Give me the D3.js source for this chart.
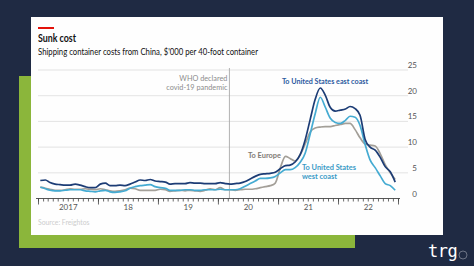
<!DOCTYPE html>
<html><head><meta charset="utf-8">
<script src="https://cdn.jsdelivr.net/npm/d3@7"></script>
<style>
html,body{margin:0;padding:0;background:#1f2a43;}
svg{display:block;}
</style></head>
<body>
<svg id="c" width="474" height="266"></svg>
<script>
// ---- data (monthly, mid-month, Jan 2017 – Dec 2022), $'000 per 40-ft container
const startYear = 2017;
const eastCoast = [3.5,3.6,3.1,2.8,2.7,2.6,2.6,2.8,2.6,2.3,2.1,2.1,
  2.8,3.0,2.5,2.5,2.6,2.5,2.8,3.2,3.6,3.5,3.7,3.4,
  3.3,3.2,2.8,2.9,2.9,2.9,3.1,3.0,3.0,2.9,2.9,2.9,
  3.1,2.9,2.8,2.9,3.0,3.3,3.8,4.3,4.7,4.8,4.9,5.1,
  5.8,6.4,6.5,7.1,8.5,11.4,15.3,19.3,21.5,20.1,17.7,17.0,
  17.2,17.4,17.9,17.5,16.2,11.5,10.0,9.4,8.0,6.2,5.2,3.2];
const westCoast = [2.2,1.9,1.6,1.5,1.5,1.6,1.7,1.7,1.7,1.5,1.4,1.3,
  1.5,1.6,1.3,1.2,1.3,1.5,2.0,2.3,2.5,2.6,2.7,2.3,
  2.1,2.0,1.6,1.6,1.6,1.7,1.7,1.6,1.6,1.7,1.7,1.7,
  1.8,1.7,1.7,1.7,1.9,2.4,2.9,3.4,3.9,3.9,4.0,4.3,
  5.0,5.6,5.6,6.0,7.0,8.8,12.5,16.5,19.7,17.8,15.6,14.8,
  14.6,15.2,16.0,15.8,14.2,10.5,7.5,6.0,4.4,2.9,2.5,1.6];
const europe = [2.2,2.0,1.8,1.6,1.6,1.7,1.9,1.8,1.8,1.9,1.8,1.7,
  1.9,1.7,1.5,1.4,1.5,1.7,2.0,1.9,1.6,1.6,1.6,1.6,
  1.8,1.7,1.4,1.5,1.6,1.5,1.6,1.5,1.4,1.6,1.9,1.7,
  2.1,1.7,1.7,1.6,1.7,1.8,1.8,1.9,2.1,2.3,2.5,3.0,
  6.0,8.2,7.8,7.3,8.5,10.6,12.9,13.7,13.9,14.0,14.0,14.2,
  14.4,14.6,14.6,13.4,11.8,10.6,10.4,10.2,8.7,6.6,5.0,3.7];
const yTicks = [0,5,10,15,20,25];
const yearLabels = ["2017","18","19","20","21","22"];
const whoDate = new Date(2020,2,11);

const months = d3.range(eastCoast.length).map(k => new Date(startYear, k, 15));

const svg = d3.select("#c");
// backdrop
svg.append("rect").attr("x",0).attr("y",0).attr("width",474).attr("height",266).attr("fill","#1f2a43");
svg.append("rect").attr("x",19).attr("y",76).attr("width",336).attr("height",172).attr("fill","#8bb63b");
svg.append("rect").attr("x",31).attr("y",17).attr("width",412).attr("height",218).attr("fill","#fefefe");

// header
svg.append("rect").attr("x",38).attr("y",27).attr("width",16).attr("height",2).attr("fill","#e3120b");
svg.append("text").attr("x",38).attr("y",42).attr("font-family","Lato, 'Open Sans', sans-serif")
  .attr("font-weight","bold").attr("font-size",10.5).attr("fill","#111")
  .attr("textLength",38).attr("lengthAdjust","spacingAndGlyphs").text("Sunk cost");
svg.append("text").attr("x",38).attr("y",54.5).attr("font-family","Lato, 'Open Sans', sans-serif")
  .attr("font-size",9.2).attr("fill","#111")
  .attr("textLength",220).attr("lengthAdjust","spacingAndGlyphs")
  .text("Shipping container costs from China, $'000 per 40-foot container");

const x = d3.scaleTime().domain([new Date(2017,0,1), new Date(2023,0,1)]).range([38,398]);
const y = d3.scaleLinear().domain([0,25]).range([198.5,70]);

// gridlines + y labels
const g = svg.append("g");
g.selectAll("line.grid").data(yTicks.filter(d=>d>0)).join("line")
  .attr("x1",38).attr("x2",408).attr("y1",d=>y(d)).attr("y2",d=>y(d))
  .attr("stroke","#dcdcdc").attr("stroke-width",0.8);
g.selectAll("text.yl").data(yTicks).join("text")
  .attr("x",417).attr("y",d=>y(d)-2).attr("text-anchor","end")
  .attr("font-family","Lato, sans-serif").attr("font-size",8).attr("fill","#555")
  .text(d=>d);

// WHO line
svg.append("line").attr("x1",x(whoDate)).attr("x2",x(whoDate)).attr("y1",68).attr("y2",198.5)
  .attr("stroke","#a8a8a8").attr("stroke-width",0.9);
svg.append("text").attr("x",x(whoDate)-2).attr("y",81).attr("text-anchor","end")
  .attr("font-family","Lato, sans-serif").attr("font-size",7.3).attr("fill","#8c8c8c").text("WHO declared");
svg.append("text").attr("x",x(whoDate)-2).attr("y",89.5).attr("text-anchor","end")
  .attr("font-family","Lato, sans-serif").attr("font-size",7.3).attr("fill","#8c8c8c").text("covid-19 pandemic");

// x axis
const axG = svg.append("g").attr("transform",`translate(0,${y(0)})`);
axG.call(d3.axisBottom(x).tickValues(d3.timeMonth.range(new Date(2017,0,1), new Date(2023,0,2))).tickSize(3).tickFormat(""));
const yrG = svg.append("g").attr("transform",`translate(0,${y(0)})`);
yrG.call(d3.axisBottom(x).tickValues(d3.timeYear.range(new Date(2017,0,1), new Date(2023,0,2))).tickSize(6).tickFormat(""));
[axG,yrG].forEach(a=>{a.selectAll("line").attr("stroke","#444").attr("stroke-width",0.8);a.select(".domain").remove();});
svg.append("line").attr("x1",36).attr("x2",400).attr("y1",y(0)).attr("y2",y(0)).attr("stroke","#444").attr("stroke-width",0.9);
const lblG = svg.append("g").attr("transform",`translate(0,${y(0)})`);
lblG.call(d3.axisBottom(x).tickValues(yearLabels.map((s,i)=>new Date(2017+i,6,1))).tickSize(0).tickPadding(6)
  .tickFormat((d,i)=>yearLabels[i]));
lblG.select(".domain").remove();
lblG.selectAll("text").attr("font-family","Lato, sans-serif").attr("font-size",8).attr("fill","#555");

// lines
const line = vals => d3.line().x((d,i)=>x(months[i])).y(d=>y(d)).curve(d3.curveMonotoneX)(vals);
const series = [
  {vals: europe, color:"#a39f98"},
  {vals: westCoast, color:"#45abd2"},
  {vals: eastCoast, color:"#1c3c75"}
];
svg.append("g").selectAll("path").data(series).join("path")
  .attr("d",d=>line(d.vals)).attr("fill","none").attr("stroke",d=>d.color)
  .attr("stroke-width",1.7).attr("stroke-linejoin","round");

// annotations
svg.append("text").attr("x",325).attr("y",83.5).attr("text-anchor","middle")
  .attr("font-family","Lato, sans-serif").attr("font-weight","bold").attr("font-size",7.2)
  .attr("fill","#2c5a9e").text("To United States east coast");
svg.append("text").attr("x",248).attr("y",158).attr("font-family","Lato, sans-serif").attr("font-weight","bold")
  .attr("font-size",7.4).attr("fill","#7f7b75").text("To Europe");
svg.append("text").attr("x",302).attr("y",170).attr("font-family","Lato, sans-serif").attr("font-weight","bold")
  .attr("font-size",7.4).attr("fill","#3a9bc6").text("To United States");
svg.append("text").attr("x",302).attr("y",178.5).attr("font-family","Lato, sans-serif").attr("font-weight","bold")
  .attr("font-size",7.4).attr("fill","#3a9bc6").text("west coast");

// source
svg.append("text").attr("x",38).attr("y",225).attr("font-family","Lato, sans-serif")
  .attr("font-size",6.8).attr("fill","#cdcdcd").text("Source: Freightos");

// logo
svg.append("text").attr("x",428).attr("y",257).attr("font-family","'DejaVu Sans Mono', monospace")
  .attr("font-size",17).attr("fill","#ffffff").attr("letter-spacing",-0.5).text("trg");
svg.append("circle").attr("cx",463).attr("cy",255).attr("r",4).attr("fill","none").attr("stroke","#7f8595").attr("stroke-width",0.8);
</script>
</body></html>
